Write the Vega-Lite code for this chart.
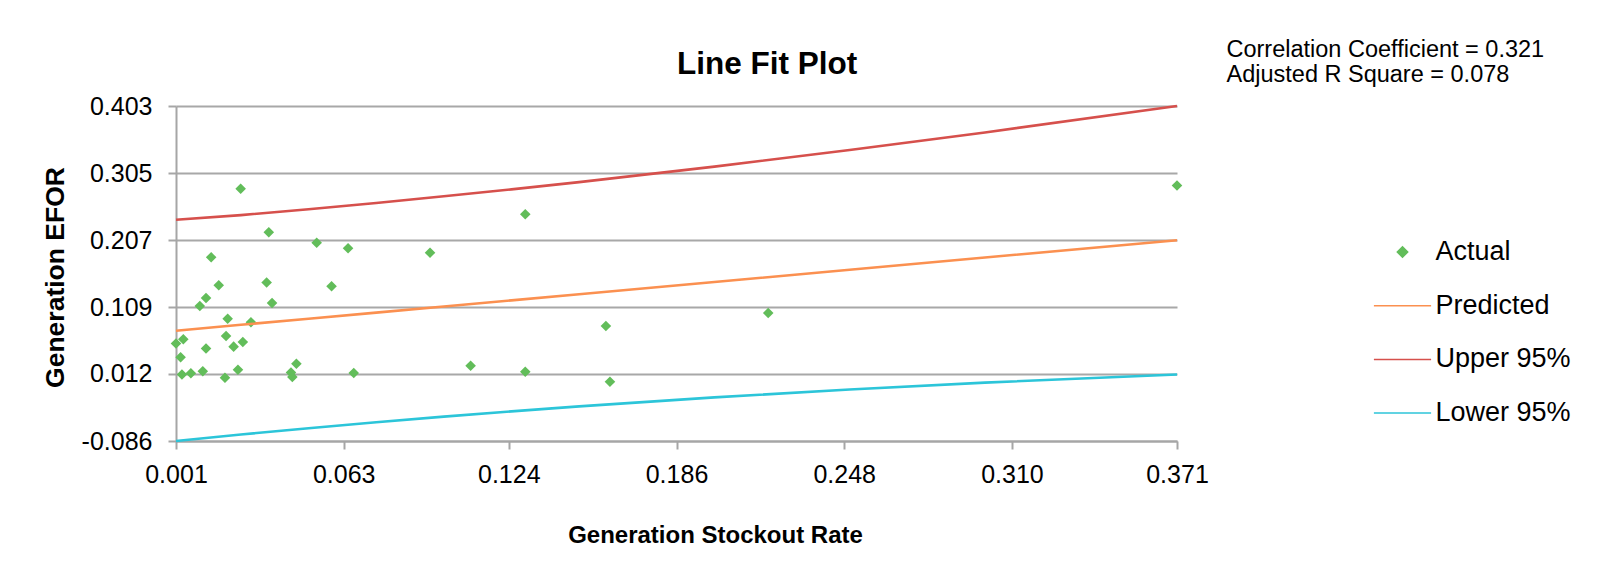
{
  "$schema": "https://vega.github.io/schema/vega-lite/v6.json",
  "autosize": "none",
  "width": 1001,
  "height": 335,
  "padding": {"left": 176, "top": 106, "right": 423, "bottom": 140},
  "background": "white",
  "config": {
    "font": "Liberation Sans",
    "view": {"stroke": null},
    "axis": {"labelFont": "Liberation Sans", "titleFont": "Liberation Sans", "labelColor": "#000000", "titleColor": "#000000", "labelFlush": false},
    "legend": {"labelFont": "Liberation Sans"}
  },
  "datasets": {
    "actual": [
      {"x": 0.0249, "y": 0.2823, "series": "Actual"},
      {"x": 0.0353, "y": 0.2186, "series": "Actual"},
      {"x": 0.0530, "y": 0.2035, "series": "Actual"},
      {"x": 0.0646, "y": 0.1953, "series": "Actual"},
      {"x": 0.0949, "y": 0.1889, "series": "Actual"},
      {"x": 0.0140, "y": 0.1821, "series": "Actual"},
      {"x": 0.0168, "y": 0.1413, "series": "Actual"},
      {"x": 0.0345, "y": 0.1454, "series": "Actual"},
      {"x": 0.0585, "y": 0.1398, "series": "Actual"},
      {"x": 0.0121, "y": 0.1227, "series": "Actual"},
      {"x": 0.0098, "y": 0.1111, "series": "Actual"},
      {"x": 0.0365, "y": 0.1154, "series": "Actual"},
      {"x": 0.0201, "y": 0.0925, "series": "Actual"},
      {"x": 0.0287, "y": 0.0874, "series": "Actual"},
      {"x": 0.0010, "y": 0.0563, "series": "Actual"},
      {"x": 0.0037, "y": 0.0625, "series": "Actual"},
      {"x": 0.0195, "y": 0.0673, "series": "Actual"},
      {"x": 0.0121, "y": 0.0490, "series": "Actual"},
      {"x": 0.0223, "y": 0.0517, "series": "Actual"},
      {"x": 0.0257, "y": 0.0585, "series": "Actual"},
      {"x": 0.0027, "y": 0.0362, "series": "Actual"},
      {"x": 0.0032, "y": 0.0111, "series": "Actual"},
      {"x": 0.0065, "y": 0.0128, "series": "Actual"},
      {"x": 0.0109, "y": 0.0159, "series": "Actual"},
      {"x": 0.0191, "y": 0.0063, "series": "Actual"},
      {"x": 0.0239, "y": 0.0181, "series": "Actual"},
      {"x": 0.0435, "y": 0.0140, "series": "Actual"},
      {"x": 0.0440, "y": 0.0074, "series": "Actual"},
      {"x": 0.0455, "y": 0.0268, "series": "Actual"},
      {"x": 0.0667, "y": 0.0133, "series": "Actual"},
      {"x": 0.1301, "y": 0.2449, "series": "Actual"},
      {"x": 0.1599, "y": 0.0819, "series": "Actual"},
      {"x": 0.1099, "y": 0.0239, "series": "Actual"},
      {"x": 0.1301, "y": 0.0152, "series": "Actual"},
      {"x": 0.1614, "y": 0.0006, "series": "Actual"},
      {"x": 0.2199, "y": 0.1008, "series": "Actual"},
      {"x": 0.3710, "y": 0.2870, "series": "Actual"}
    ],
    "lines": [
      {"x": 0.001, "y": 0.075, "series": "Predicted"},
      {"x": 0.025, "y": 0.0836, "series": "Predicted"},
      {"x": 0.05, "y": 0.0925, "series": "Predicted"},
      {"x": 0.075, "y": 0.1014, "series": "Predicted"},
      {"x": 0.1, "y": 0.1104, "series": "Predicted"},
      {"x": 0.125, "y": 0.1193, "series": "Predicted"},
      {"x": 0.15, "y": 0.1282, "series": "Predicted"},
      {"x": 0.2, "y": 0.1461, "series": "Predicted"},
      {"x": 0.25, "y": 0.1639, "series": "Predicted"},
      {"x": 0.3, "y": 0.1818, "series": "Predicted"},
      {"x": 0.371, "y": 0.207, "series": "Predicted"},
      {"x": 0.001, "y": 0.237, "series": "Upper 95%"},
      {"x": 0.025, "y": 0.2437, "series": "Upper 95%"},
      {"x": 0.05, "y": 0.2523, "series": "Upper 95%"},
      {"x": 0.075, "y": 0.2615, "series": "Upper 95%"},
      {"x": 0.1, "y": 0.2712, "series": "Upper 95%"},
      {"x": 0.125, "y": 0.2813, "series": "Upper 95%"},
      {"x": 0.15, "y": 0.2919, "series": "Upper 95%"},
      {"x": 0.2, "y": 0.3145, "series": "Upper 95%"},
      {"x": 0.25, "y": 0.3387, "series": "Upper 95%"},
      {"x": 0.3, "y": 0.3644, "series": "Upper 95%"},
      {"x": 0.371, "y": 0.403, "series": "Upper 95%"},
      {"x": 0.001, "y": -0.086, "series": "Lower 95%"},
      {"x": 0.025, "y": -0.0765, "series": "Lower 95%"},
      {"x": 0.05, "y": -0.0673, "series": "Lower 95%"},
      {"x": 0.075, "y": -0.0587, "series": "Lower 95%"},
      {"x": 0.1, "y": -0.0504, "series": "Lower 95%"},
      {"x": 0.125, "y": -0.0427, "series": "Lower 95%"},
      {"x": 0.15, "y": -0.0355, "series": "Lower 95%"},
      {"x": 0.2, "y": -0.0223, "series": "Lower 95%"},
      {"x": 0.25, "y": -0.0109, "series": "Lower 95%"},
      {"x": 0.3, "y": -0.0008, "series": "Lower 95%"},
      {"x": 0.371, "y": 0.011, "series": "Lower 95%"}
    ]
  },
  "layer": [
    {
      "data": {"name": "actual"},
      "mark": {"type": "point", "filled": true, "opacity": 1, "size": 2800},
      "encoding": {
        "x": {
          "field": "x", "type": "quantitative",
          "scale": {"domain": [0.001, 0.371], "nice": false, "zero": false},
          "axis": {
            "values": [0.001, 0.063, 0.124, 0.186, 0.248, 0.310, 0.371],
            "format": ".3f",
            "grid": false,
            "labelFlush": false,
            "domainColor": "#A6A6A6", "domainWidth": 2,
            "tickColor": "#A6A6A6", "tickWidth": 2, "tickSize": 8,
            "labelFontSize": 25, "labelPadding": 13,
            "title": "Generation Stockout Rate",
            "titleFontSize": 24, "titleFontWeight": "bold",
            "titleX": 539, "titleY": 101, "titleBaseline": "alphabetic", "titleAlign": "center"
          }
        },
        "y": {
          "field": "y", "type": "quantitative",
          "scale": {"domain": [-0.086, 0.403], "nice": false, "zero": false},
          "axis": {
            "values": [-0.086, 0.012, 0.109, 0.207, 0.305, 0.403],
            "labelExpr": "replace(format(datum.value, '.3f'), '\u2212', '-')",
            "labelFlush": false,
            "grid": true, "gridColor": "#A8A8A8", "gridWidth": 2,
            "domainColor": "#A6A6A6", "domainWidth": 2,
            "tickColor": "#A6A6A6", "tickWidth": 2, "tickSize": 8,
            "labelFontSize": 25, "labelPadding": 16,
            "title": "Generation EFOR",
            "titleFontSize": 26.5, "titleFontWeight": "bold",
            "titleAngle": -90, "titleX": -113, "titleY": 171,
            "titleBaseline": "alphabetic", "titleAlign": "center"
          }
        },
        "color": {
          "field": "series", "type": "nominal",
          "scale": {"domain": ["Actual", "Predicted", "Upper 95%", "Lower 95%"], "range": ["#62BD5A", "#FB9050", "#D6504C", "#2CC5D9"]},
          "legend": {
            "title": null, "orient": "none", "legendX": 1199.5, "legendY": 119,
            "padding": 0, "rowPadding": 13.7, "symbolSize": 2704, "labelFontSize": 27, "labelColor": "#000000",
            "labelOffset": 6,
            "encode": {"symbols": {"update": {
              "fill": {"scale": "color", "field": "value"},
              "stroke": {"scale": "color", "field": "value"},
              "strokeWidth": {"signal": "datum.value === 'Actual' ? 0 : 2.6"},
              "opacity": {"value": 1}
            }}}
          }
        },
        "shape": {
          "field": "series", "type": "nominal",
          "scale": {"domain": ["Actual", "Predicted", "Upper 95%", "Lower 95%"], "range": ["M-0.2,0L0,-0.2L0.2,0L0,0.2Z", "M-1.1,0H1.1", "M-1.1,0H1.1", "M-1.1,0H1.1"]},
          "legend": {"title": null}
        }
      }
    },
    {
      "data": {"name": "lines"},
      "mark": {"type": "line", "strokeWidth": 2.6},
      "encoding": {
        "x": {
          "field": "x", "type": "quantitative",
          "axis": {
            "orient": "top", "labels": false, "ticks": false, "domain": false, "grid": false,
            "title": "Line Fit Plot",
            "titleX": 590.7, "titleY": -33, "titleAlign": "center", "titleAnchor": null,
            "titleBaseline": "alphabetic", "titleFontSize": 31.5, "titleFontWeight": "bold"
          }
        },
        "y": {
          "field": "y", "type": "quantitative",
          "axis": {
            "orient": "right", "labels": false, "ticks": false, "domain": false, "grid": false,
            "title": ["Correlation Coefficient = 0.321", "Adjusted R Square = 0.078"],
            "titleX": 49, "titleY": -49.5, "titleAngle": 0, "titleAlign": "left",
            "titleBaseline": "alphabetic", "titleFontSize": 23.5, "titleFontWeight": "normal",
            "titleLineHeight": 25
          }
        },
        "color": {"field": "series", "type": "nominal"}
      }
    }
  ],
  "resolve": {"axis": {"x": "independent", "y": "independent"}}
}
